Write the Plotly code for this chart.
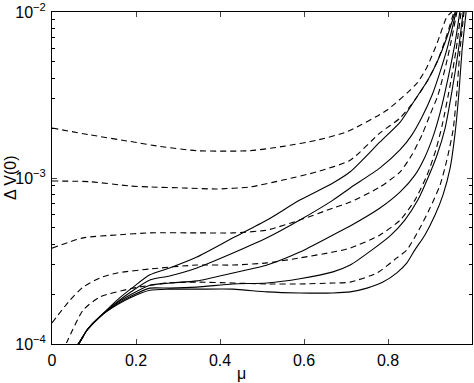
import plotly.graph_objects as go

# dashed curves
d1_x = [0, .09, .186, .257, .345, .471, .55, .631, .702, .798, .869, .893, .917, .94, .952]
d1_y = [2.00e-3, 1.82e-3, 1.66e-3, 1.55e-3, 1.46e-3, 1.46e-3, 1.55e-3, 1.69e-3, 1.90e-3, 2.57e-3, 3.73e-3, 4.67e-3, 6.50e-3, 9.33e-3, 1.0e-2]
d2_x = [0, .09, .186, .233, .312, .393, .471, .55, .631, .71, .781, .829, .864, .895, .919, .94, .957]
d2_y = [9.59e-4, 9.50e-4, 8.95e-4, 8.83e-4, 8.71e-4, 8.59e-4, 8.83e-4, 9.72e-4, 1.09e-3, 1.28e-3, 1.87e-3, 2.30e-3, 2.95e-3, 3.89e-3, 5.14e-3, 7.26e-3, 1.0e-2]
d3_x = [0, .074, .155, .233, .352, .431, .512, .590, .669, .710, .781, .829, .857, .881, .900, .919, .938, .952, .964]
d3_y = [3.78e-4, 4.36e-4, 4.54e-4, 4.67e-4, 4.67e-4, 4.67e-4, 4.86e-4, 5.58e-4, 6.59e-4, 7.16e-4, 8.83e-4, 1.09e-3, 1.38e-3, 1.82e-3, 2.40e-3, 3.16e-3, 4.80e-3, 6.97e-3, 1.0e-2]
d4_x = [0, .043, .074, .114, .155, .233, .345, .431, .512, .590, .669, .710, .781, .829, .864, .893, .914, .929, .948, .962, .974]
d4_y = [1.34e-4, 1.84e-4, 2.20e-4, 2.50e-4, 2.68e-4, 2.83e-4, 2.99e-4, 2.99e-4, 3.08e-4, 3.30e-4, 3.58e-4, 3.78e-4, 4.54e-4, 5.58e-4, 7.36e-4, 1.04e-3, 1.48e-3, 2.08e-3, 3.63e-3, 5.90e-3, 1.0e-2]
d5_x = [.024, .038, .074, .114, .193, .274, .345, .431, .512, .590, .669, .710, .774, .821, .845, .876, .900, .924, .940, .955, .964, .971, .981]
d5_y = [8.9e-5, 1.06e-4, 1.60e-4, 1.92e-4, 2.17e-4, 2.33e-4, 2.36e-4, 2.33e-4, 2.30e-4, 2.30e-4, 2.33e-4, 2.36e-4, 2.68e-4, 3.30e-4, 3.69e-4, 5.00e-4, 6.59e-4, 9.08e-4, 1.28e-3, 1.95e-3, 3.30e-3, 5.74e-3, 1.0e-2]

# solid curves
s1_x = [.048, .064, .083, .114, .155, .190, .233, .280, .345, .431, .512, .590, .669, .710, .781, .829, .864, .895, .919, .938, .960]
s1_y = [9.2e-5, 1.01e-4, 1.21e-4, 1.46e-4, 1.84e-4, 2.17e-4, 2.61e-4, 2.87e-4, 3.34e-4, 4.36e-4, 5.58e-4, 7.36e-4, 9.33e-4, 1.09e-3, 1.65e-3, 2.17e-3, 2.95e-3, 3.89e-3, 5.14e-3, 6.78e-3, 1.0e-2]
s2_x = [.048, .064, .083, .114, .155, .190, .233, .280, .345, .431, .512, .590, .669, .710, .781, .829, .857, .881, .905, .924, .943, .962]
s2_y = [9.2e-5, 1.01e-4, 1.21e-4, 1.46e-4, 1.79e-4, 2.08e-4, 2.43e-4, 2.57e-4, 2.87e-4, 3.53e-4, 4.36e-4, 5.58e-4, 7.36e-4, 8.71e-4, 1.15e-3, 1.48e-3, 1.82e-3, 2.33e-3, 3.16e-3, 4.36e-3, 6.32e-3, 1.0e-2]
s3_x = [.048, .064, .083, .114, .155, .190, .233, .280, .345, .431, .512, .590, .669, .710, .781, .829, .864, .888, .907, .924, .943, .960, .971]
s3_y = [9.2e-5, 1.01e-4, 1.21e-4, 1.46e-4, 1.77e-4, 2.00e-4, 2.26e-4, 2.33e-4, 2.40e-4, 2.68e-4, 2.99e-4, 3.58e-4, 4.54e-4, 5.14e-4, 6.59e-4, 8.24e-4, 1.04e-3, 1.34e-3, 1.77e-3, 2.47e-3, 4.00e-3, 6.59e-3, 1.0e-2]
s4_x = [.048, .064, .083, .114, .155, .190, .233, .280, .345, .431, .512, .590, .669, .710, .762, .805, .840, .871, .895, .917, .936, .952, .967, .979]
s4_y = [9.2e-5, 1.01e-4, 1.21e-4, 1.46e-4, 1.74e-4, 1.95e-4, 2.17e-4, 2.17e-4, 2.20e-4, 2.30e-4, 2.33e-4, 2.47e-4, 2.72e-4, 2.99e-4, 3.69e-4, 4.48e-4, 5.58e-4, 7.36e-4, 1.00e-3, 1.38e-3, 2.00e-3, 3.30e-3, 5.74e-3, 1.0e-2]
s5_x = [.048, .064, .083, .114, .155, .190, .233, .280, .345, .431, .512, .590, .669, .710, .750, .788, .821, .845, .864, .888, .912, .931, .948, .960, .969, .976, .986]
s5_y = [9.2e-5, 1.01e-4, 1.21e-4, 1.46e-4, 1.72e-4, 1.92e-4, 2.11e-4, 2.14e-4, 2.14e-4, 2.14e-4, 2.06e-4, 2.03e-4, 2.03e-4, 2.06e-4, 2.17e-4, 2.36e-4, 2.68e-4, 3.08e-4, 3.69e-4, 4.54e-4, 5.98e-4, 7.91e-4, 1.15e-3, 1.89e-3, 3.30e-3, 5.74e-3, 1.0e-2]

x_ticks = [0, 0.2, 0.4, 0.6, 0.8, 1]
x_tick_text = ["0", "0.2", "0.4", "0.6", "0.8", "1"]
y_ticks = [1e-4, 1e-3, 1e-2]
y_tick_text = ["10<sup>\u22124</sup>", "10<sup>\u22123</sup>", "10<sup>\u22122</sup>"]
y_minor = [k * 10.0 ** e for e in (-4, -3) for k in range(2, 10)]

fig = go.Figure()
for xs, ys in [(d1_x, d1_y), (d2_x, d2_y), (d3_x, d3_y), (d4_x, d4_y), (d5_x, d5_y)]:
    fig.add_trace(go.Scatter(x=xs, y=ys, mode="lines", line=dict(color="black", width=1.1, dash="6px,4px", shape="spline", smoothing=0.6), showlegend=False))
for xs, ys in [(s1_x, s1_y), (s2_x, s2_y), (s3_x, s3_y), (s4_x, s4_y), (s5_x, s5_y)]:
    fig.add_trace(go.Scatter(x=xs, y=ys, mode="lines", line=dict(color="black", width=1.1, shape="spline", smoothing=0.6), showlegend=False))

font = dict(family="Liberation Sans, Arial, sans-serif", size=16, color="black")
fig.update_layout(
    width=474, height=383,
    margin=dict(l=52, r=2, t=12, b=39),
    paper_bgcolor="white", plot_bgcolor="white",
    font=font,
    xaxis=dict(range=[0, 1], tickvals=x_ticks, ticktext=x_tick_text, ticks="inside", ticklen=5,
               showline=True, linecolor="black", linewidth=1, mirror="allticks", showgrid=False,
               zeroline=False, tickfont=font, automargin=False, ticklabelstandoff=2),
    yaxis=dict(type="log", range=[-4, -2], tickvals=y_ticks, ticktext=y_tick_text, ticks="inside", ticklen=5,
               showline=True, linecolor="black", linewidth=1, mirror="allticks", showgrid=False,
               zeroline=False, tickfont=font, automargin=False, ticklabelstandoff=2,
               minor=dict(tickvals=y_minor, ticks="inside", ticklen=3, showgrid=False, tickcolor="black")),
    annotations=[
        dict(text="\u03bc", x=0.45, y=0, xref="paper", yref="paper", yshift=-19, yanchor="top",
             showarrow=False, font=font),
        dict(text="\u0394 V(0)", x=0, y=0.5, xref="paper", yref="paper", xshift=-42, xanchor="center",
             textangle=-90, showarrow=False, font=font),
    ],
)
fig.write_html("out.html", config={"displayModeBar": False},
               post_script="document.body.style.margin='0';document.body.style.overflow='hidden';")
